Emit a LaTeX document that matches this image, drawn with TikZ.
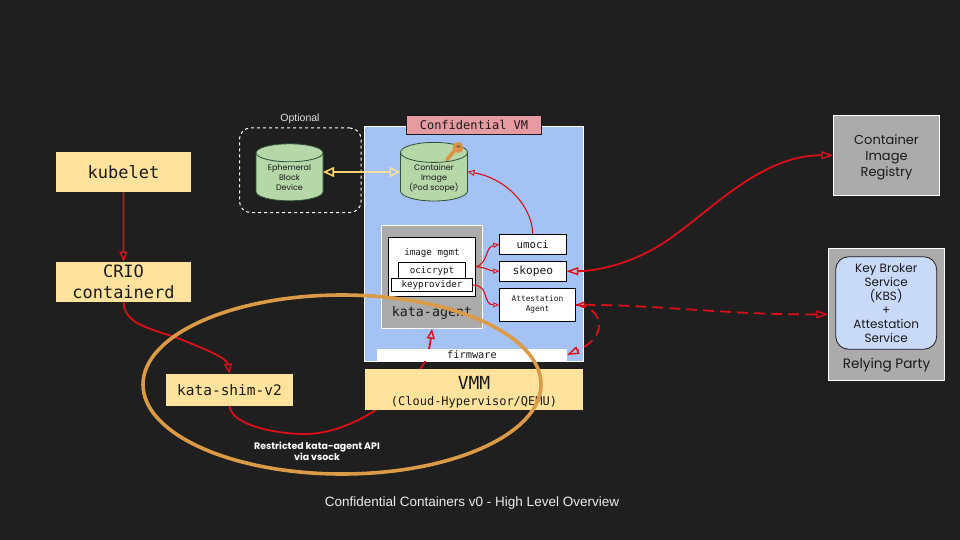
\documentclass[tikz,border=0pt]{standalone}
\usepackage{fontspec}
\setmainfont{Poppins}
\setmonofont{DejaVu Sans Mono}
\newfontfamily\arialf{Liberation Sans}
\usetikzlibrary{arrows.meta,shapes.geometric}
\definecolor{bgc}{HTML}{1F1F1F}
\definecolor{ink}{HTML}{1A1A1A}
\definecolor{yel}{HTML}{FFE29B}
\definecolor{vmblue}{HTML}{A4C2F4}
\definecolor{cylgreen}{HTML}{B6D7A8}
\definecolor{cyledge}{HTML}{2F4F3A}
\definecolor{lnred}{HTML}{DC0F18}
\definecolor{greyb}{HTML}{ABABAB}
\definecolor{pinkb}{HTML}{E69AA2}
\definecolor{kbsb}{HTML}{C9DAF8}
\definecolor{orng}{HTML}{DB9A45}
\definecolor{arrY}{HTML}{F6D46E}
\definecolor{arrP}{HTML}{F6DDA6}
\newcommand{\fs}[1]{\fontsize{#1}{#1}\selectfont}
% left, right, top, bottom, half-height of the end ellipses
\newcommand{\cylshape}[5]{%
  \pgfmathsetmacro{\cxx}{(#1+#2)/2}\pgfmathsetmacro{\rxx}{(#2-#1)/2}%
  \pgfmathsetmacro{\ya}{#3+#5}\pgfmathsetmacro{\yb}{#4-#5}%
  \pgfmathsetmacro{\yc}{#4-#5+0.55*#5}\pgfmathsetmacro{\xl}{\cxx-0.55*\rxx}\pgfmathsetmacro{\xr}{\cxx+0.55*\rxx}%
  \draw[cylstyle] (#1,\ya) -- (#1,\yb) .. controls (#1,\yc) and (\xl,#4) .. (\cxx,#4) .. controls (\xr,#4) and (#2,\yc) .. (#2,\yb) -- (#2,\ya) -- cycle;
  \draw[cylstyle] (\cxx,\ya) ellipse (\rxx pt and #5pt);
}
\tikzset{
  x=1pt,y=-1pt,
  box/.style={rectangle,inner sep=0pt,outer sep=0pt,text=ink,align=center},
  yelbox/.style={box,fill=yel,font=\ttfamily},
  whitebox/.style={box,fill=white,draw=black,line width=0.8pt,font=\ttfamily},
  greybox/.style={box,fill=greyb,draw=white,line width=1pt},
  cylstyle/.style={draw=cyledge,fill=cylgreen,line width=0.8pt},
  cylbox/.style={rectangle,inner sep=0pt,outer sep=0pt},
  cyltext/.style={inner sep=0pt,align=center,text=ink,font=\fontsize{8}{10}\selectfont},
  rline/.style={draw=lnred,line width=1.8pt,-{Triangle[open,length=10pt,width=8pt,line width=1.4pt]}},
  rthin/.style={draw=lnred,line width=1.1pt,-{Triangle[open,length=6pt,width=5pt,line width=0.9pt]}},
  rdash/.style={rline,dash pattern=on 11pt off 6pt},
  lbl/.style={inner sep=0pt,align=center},
}
\begin{document}
\begin{tikzpicture}
\useasboundingbox (0,0) rectangle (960,540);
\fill[bgc] (0,0) rectangle (960,540);

% left column
\node[yelbox,minimum width=135pt,minimum height=40.6pt,font=\ttfamily\fs{17}] (kubelet) at (123.5,172) {kubelet};
\node[yelbox,minimum width=135pt,minimum height=40.6pt,font=\ttfamily\fontsize{17}{21}\selectfont] (crio) at (123.5,282) {CRIO\\containerd};
\node[yelbox,minimum width=127pt,minimum height=32.6pt,font=\ttfamily\fs{14.5}] (shim) at (229.5,390) {kata-shim-v2};

% confidential VM
\node[box,fill=vmblue,draw=white,line width=1pt,minimum width=219pt,minimum height=234pt] (vm) at (474,244) {};
\node[box,fill=pinkb,draw=ink,line width=0.8pt,minimum width=135.5pt,minimum height=19pt,font=\ttfamily\fs{12}] (cvm) at (474,125) {Confidential VM};

% optional block device
\node[box,draw=white,dashed,line width=1pt,rounded corners=11pt,minimum width=121.5pt,minimum height=84.5pt] (opt) at (300.25,170.25) {};
\node[lbl,text=white!88!black,font=\arialf\fs{10.5}] (optlbl) at (300,118.5) {Optional};

% cylinders
\node[cylbox,minimum width=67pt,minimum height=57pt] (eph) at (289.5,172.3) {};
\cylshape{256}{323}{143.8}{200.8}{9}
\node[cyltext] (ephtxt) at (289.5,178) {Ephemeral\\Block\\Device};
\node[cylbox,minimum width=67pt,minimum height=58.5pt] (cimg) at (434,171.7) {};
\cylshape{400.5}{467.5}{142.4}{201}{10}
\node[cyltext] (cimgtxt) at (434,178) {Container\\Image\\(Pod scope)};

% key icon
\draw[draw=orng!95!red,line width=3.6pt,line cap=round] (455,150) -- (447,159.5);
\fill[orng!95!red] (458,147.5) circle (5.5pt);
\fill[cyledge!70!orng] (458.5,146.5) ellipse (2.2pt and 1pt);

% yellow double arrow
\coordinate (ymid) at (364.3,172);
\draw[draw=arrY,line width=2pt,{Triangle[open,length=11pt,width=10pt,line width=1.6pt]}-] (eph.east |- ymid) -- (ymid);
\draw[draw=arrP,line width=2pt,-{Triangle[open,length=11pt,width=10pt,line width=1.6pt]}] (ymid) -- (cimg.west |- ymid);

% kata agent
\node[box,fill=greyb,draw=white,line width=0.8pt,minimum width=100.6pt,minimum height=103.7pt] (agent) at (432,277) {};
\node[lbl,font=\ttfamily\fs{13.3},text=ink] (agenttxt) at (432,312.5) {kata-agent};
\node[whitebox,minimum width=87.4pt,minimum height=59pt] (imgmgmt) at (432,266.8) {};
\node[lbl,font=\ttfamily\fs{9.2},text=ink] (imgtxt) at (432,252.7) {image mgmt};
\node[whitebox,minimum width=67.4pt,minimum height=17pt,font=\ttfamily\fs{9.2}] (ocicrypt) at (432,270.5) {ocicrypt};
\node[whitebox,minimum width=81.4pt,minimum height=13.4pt,font=\ttfamily\fs{9.2}] (keyprov) at (432,285) {keyprovider};

% side tools
\node[whitebox,minimum width=67pt,minimum height=20pt,font=\ttfamily\fs{10.7}] (umoci) at (532.8,244.3) {umoci};
\node[whitebox,minimum width=67pt,minimum height=20pt,font=\ttfamily\fs{11.2}] (skopeo) at (532.8,271.3) {skopeo};
\node[whitebox,minimum width=76.4pt,minimum height=33pt,font=\ttfamily\fontsize{7.8}{10}\selectfont] (att) at (537.5,304.8) {Attestation\\Agent};

% shim to agent, passes behind firmware and VMM
\draw[rline] (shim.south) .. controls (232,425) and (275,434) .. (305,434) .. controls (345,434) and (395,405) .. (423,365) .. controls (428,357) and (430,345) .. (agent.south);

% firmware and VMM
\node[box,fill=white,minimum width=190pt,minimum height=12pt,font=\ttfamily\fs{10.3}] (firmware) at (472,355) {firmware};
\node[yelbox,minimum width=218pt,minimum height=41pt] (vmm) at (474,389.5) {\fontsize{18}{18}\selectfont\rule{0pt}{18pt}VMM\\[4pt]\fontsize{12}{14}\selectfont (Cloud-Hypervisor/QEMU)};

% right boxes
\node[greybox,minimum width=106.4pt,minimum height=80pt,font=\fontsize{13}{16}\selectfont] (registry) at (886.5,155.3) {\rule{0pt}{13pt}Container\\Image\\Registry};
\node[greybox,minimum width=116.4pt,minimum height=132pt] (relying) at (886.5,314.3) {};
\node[box,fill=kbsb,draw=ink,line width=0.8pt,rounded corners=13pt,minimum width=101pt,minimum height=92.6pt,font=\fontsize{12}{14}\selectfont] (kbs) at (886.2,303) {Key Broker\\Service\\(KBS)\\+\\Attestation\\Service};
\node[lbl,text=ink,font=\fs{13.6}] (rptxt) at (886.5,365) {Relying Party};

% connectors
\draw[rline] (kubelet.south) .. controls (123.6,220) and (123.4,240) .. (crio.north);
\draw[rline] (crio.south) .. controls (125,325) and (150,328) .. (180,339) .. controls (205,349) and (227,358) .. (shim.north);
\draw[draw=lnred,line width=1.1pt,-{Triangle[open,length=7pt,width=6pt,line width=0.9pt]}] (umoci.north) .. controls (532,205) and (505,178) .. (cimg.east);
\draw[rthin] (imgmgmt.east) .. controls (488,264) and (485,247) .. (umoci.west);
\draw[rthin] (imgmgmt.east) .. controls (485,267) and (490,271) .. (skopeo.west);
\draw[rthin] (keyprov.east) .. controls (490,285) and (482,305) .. (att.west);
\draw[draw=lnred,line width=1.8pt,{Triangle[open,length=12pt,width=8pt,line width=1.4pt]}-{Triangle[open,length=12pt,width=8pt,line width=1.4pt]}] (skopeo.east) .. controls (600,271) and (635,262) .. (665,242) .. controls (710,212) and (760,155) .. (registry.west);
\draw[rdash,{Triangle[open,length=9pt,width=7pt,line width=1.4pt]}-{Triangle[open,length=12pt,width=8pt,line width=1.4pt]}] (att.east) .. controls (660,305) and (730,315) .. (relying.west);
\draw[rdash,-{Triangle[open,length=12pt,width=8pt,line width=1.4pt]}] (att.east) .. controls (600,305) and (612,335) .. (firmware.east);

% ellipse on top
\node[ellipse,draw=orng,line width=3.6pt,minimum width=398pt,minimum height=179pt,inner sep=0pt,outer sep=0pt] (oval) at (342,384.5) {};

% captions
\node[lbl,text=white,font=\fontsize{9.4}{11}\selectfont\bfseries] (apitxt) at (317,451) {Restricted kata-agent API\\via vsock};
\node[lbl,text=white!92!black,font=\arialf\fs{13.5}] (title) at (472,503) {Confidential Containers v0 - High Level Overview};
\end{tikzpicture}
\end{document}
